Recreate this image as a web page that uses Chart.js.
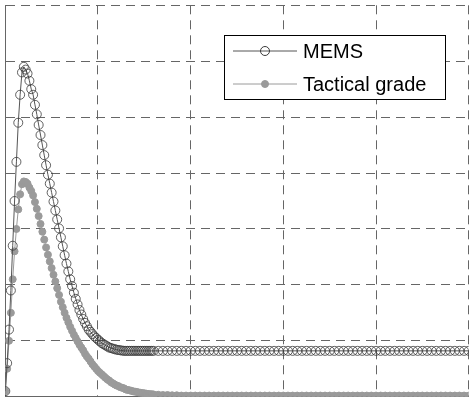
<!DOCTYPE html><html><head><script src="https://cdn.jsdelivr.net/npm/chart.js@4"></script>
<style>html,body{margin:0;padding:0;background:#fff}#w{width:474px;height:402px}</style></head><body><div id="w"><canvas id="c"></canvas></div>
<script>
const memsCurve=[0.1,0.6,1.2,1.9,2.7,3.5,4.2,4.9,5.4,5.8,5.9,5.85,5.78,5.65,5.5,5.4,5.22,5.05,4.86,4.68,4.5,4.32,4.14,3.97,3.81,3.65,3.49,3.33,3.17,3.01,2.85,2.69,2.53,2.38,2.24,2.1,1.98,1.86,1.75,1.65,1.55,1.47,1.39,1.32,1.26,1.2,1.16,1.12,1.08,1.05,1.02,0.99,0.96,0.94,0.92,0.9,0.88,0.87,0.86,0.85,0.84,0.835,0.83,0.825,0.82,0.82,0.82,0.82,0.82,0.82,0.82,0.82,0.82,0.82,0.82,0.82,0.82,0.82,0.82,0.82,0.82];
const tacticalCurve=[0.1,0.5,1.0,1.5,2.1,2.6,3.0,3.35,3.62,3.8,3.85,3.84,3.81,3.74,3.68,3.6,3.48,3.36,3.23,3.09,2.95,2.81,2.67,2.54,2.42,2.3,2.18,2.06,1.94,1.82,1.7,1.6,1.5,1.41,1.33,1.25,1.18,1.11,1.05,0.99,0.93,0.88,0.83,0.77,0.72,0.68,0.63,0.58,0.54,0.5,0.46,0.43,0.4,0.37,0.34,0.31,0.29,0.26,0.24,0.22,0.2,0.19,0.17,0.16,0.15,0.13,0.12,0.115,0.105,0.095,0.09,0.085,0.075,0.07,0.065,0.06,0.055,0.05,0.045,0.045,0.04];
const memsTail=[0.82,0.82,0.82,0.82,0.82,0.82,0.82,0.82,0.82,0.82,0.82,0.82,0.82,0.82,0.82,0.82,0.82,0.82,0.82,0.82,0.82,0.82,0.82,0.82,0.82,0.82,0.82,0.82,0.82,0.82,0.82,0.82,0.82,0.82,0.82,0.82,0.82,0.82,0.82,0.82,0.82,0.82,0.82,0.82,0.82,0.82,0.82,0.82,0.82,0.82,0.82,0.82,0.82,0.82,0.82,0.82,0.82,0.82,0.82,0.82,0.82,0.82,0.82,0.82,0.82,0.82,0.82,0.82];
const tacticalTail=[0.035,0.03,0.03,0.025,0.025,0.02,0.02,0.02,0.02,0.02,0.02,0.02,0.02,0.02,0.02,0.02,0.02,0.02,0.02,0.02,0.02,0.02,0.02,0.02,0.02,0.02,0.02,0.02,0.02,0.02,0.02,0.02,0.02,0.02,0.02,0.02,0.02,0.02,0.02,0.02,0.02,0.02,0.02,0.02,0.02,0.02,0.02,0.02,0.02,0.02,0.02,0.02,0.02,0.02,0.02,0.02,0.02,0.02,0.02,0.02,0.02,0.02,0.02,0.02,0.02,0.02,0.02,0.02];
const labels=["MEMS","Tactical grade"];
const xs=[];for(let i=0;i<=80;i++)xs.push(i*0.02);for(let i=1;i<=68;i++)xs.push(1.6+i*0.05);
const mems=memsCurve.concat(memsTail), tactical=tacticalCurve.concat(tacticalTail);
const pts=a=>xs.map((x,i)=>({x,y:a[i]}));
const legendPlugin={id:'lg',afterDraw(ch){const c=ch.ctx;c.save();c.fillStyle='#fff';c.fillRect(224,35,222,65);c.strokeStyle='#000';c.lineWidth=1;c.strokeRect(224.5,35.5,221,64);
c.font='20px Arial, "Liberation Sans"';c.textBaseline='middle';
ch.data.datasets.forEach((d,i)=>{const y=51+i*33;c.strokeStyle=d.borderColor;c.beginPath();c.moveTo(233,y);c.lineTo(297,y);c.stroke();
c.beginPath();c.arc(265,y,d.pointRadius,0,Math.PI*2);c.fillStyle=d.pointBackgroundColor;c.fill();c.strokeStyle=d.pointBorderColor;c.stroke();
c.fillStyle='#000';c.fillText(d.label,303,y+1);});c.restore();}};
new Chart(document.getElementById('c'),{type:'scatter',data:{datasets:[
{label:labels[0],data:pts(mems),showLine:true,borderColor:'#555',borderWidth:1,pointRadius:4.5,pointBackgroundColor:'rgba(255,255,255,0)',pointBorderColor:'#3a3a3a',pointBorderWidth:0.8,order:1},
{label:labels[1],data:pts(tactical),showLine:true,borderColor:'#9a9a9a',borderWidth:1,pointRadius:3.5,pointBackgroundColor:'#9a9a9a',pointBorderColor:'#9a9a9a',pointBorderWidth:1,order:2}
]},options:{responsive:true,maintainAspectRatio:false,animation:false,
layout:{padding:{left:4,right:5,top:0,bottom:5}},
plugins:{legend:{display:false},tooltip:{enabled:false}},
scales:{x:{type:'linear',min:0,max:5,ticks:{display:false,stepSize:1},grid:{color:'#666',lineWidth:1,drawTicks:false},border:{dash:[9,6],color:'#666'}},
y:{min:0,max:7,ticks:{display:false,stepSize:1},grid:{color:'#666',lineWidth:1,drawTicks:false},border:{dash:[9,6],color:'#666'}}}},
plugins:[legendPlugin]});
</script></body></html>
